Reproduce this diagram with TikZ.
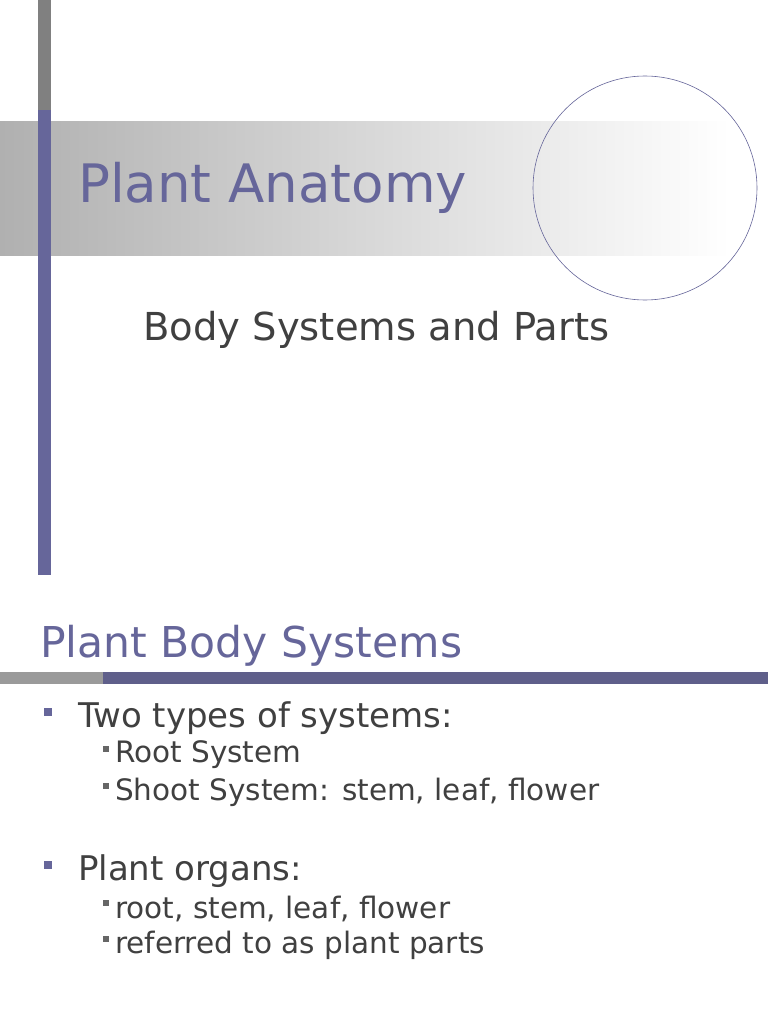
\documentclass[tikz,border=0pt]{standalone}
\usepackage{fontspec}
\setmainfont{DejaVu Sans}
\definecolor{pur}{HTML}{66669A}
\definecolor{dpur}{HTML}{5F5F8A}
\definecolor{txt}{HTML}{404040}
\definecolor{gbar}{HTML}{808080}
\begin{document}
\begin{tikzpicture}[x=1pt,y=-1pt,
  tx/.style={anchor=west,inner sep=0pt,text=txt},
  bul/.style={fill=pur,minimum width=8pt,minimum height=8pt,inner sep=0pt},
  sbul/.style={fill=txt!80,minimum width=6pt,minimum height=6pt,inner sep=0pt}]
\useasboundingbox (0,0) rectangle (768,1024);
\fill[white] (0,0) rectangle (768,1024);
\shade[left color={rgb,255:red,176;green,176;blue,176}, right color=white] (0,122) rectangle (730,255);
\draw[pur,line width=0.6pt] (645,188) circle (112);
\fill[gbar] (38,0) rectangle (51,110);
\fill[pur] (38,110) rectangle (51,575);
\node[tx,text=pur,font=\fontsize{53}{58}\selectfont] (t) at (78,188) {Plant Anatomy};
\node[tx,font=\fontsize{38.5}{44}\selectfont] (st) at (143,330) {Body Systems and Parts};
\node[tx,text=pur,font=\fontsize{42.5}{48}\selectfont] (h) at (40,646) {Plant Body Systems};
\fill[gbar!80] (0,672) rectangle (103,684);
\fill[dpur] (103,672) rectangle (768,684);
\node[bul] (b1) at (48,712) {};
\node[tx,font=\fontsize{34}{40}\selectfont] (l1) at (78,718) {Two types of systems:};
\node[sbul] (s1) at (106,749) {};
\node[tx,font=\fontsize{29.5}{34}\selectfont] (l2) at (115,755) {Root System};
\node[sbul] (s2) at (106,786) {};
\node[tx,font=\fontsize{29.5}{34}\selectfont] (l3) at (115,792) {Shoot System: stem, leaf, flower};
\node[bul] (b2) at (48,865) {};
\node[tx,font=\fontsize{34}{40}\selectfont] (l4) at (78,871) {Plant organs:};
\node[sbul] (s3) at (106,903) {};
\node[tx,font=\fontsize{29.5}{34}\selectfont] (l5) at (115,909) {root, stem, leaf, flower};
\node[sbul] (s4) at (106,939) {};
\node[tx,font=\fontsize{29.5}{34}\selectfont] (l6) at (115,945) {referred to as plant parts};
\end{tikzpicture}
\end{document}
